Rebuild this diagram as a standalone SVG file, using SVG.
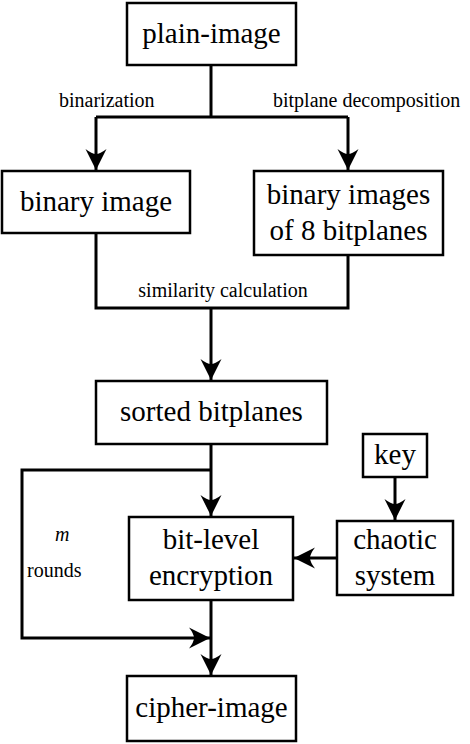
<svg xmlns="http://www.w3.org/2000/svg" width="470" height="744" viewBox="0 0 470 744">
<style>
.box{fill:#fff;stroke:#000;stroke-width:2.5}
.t{font-family:'Liberation Serif','Times New Roman',serif;font-size:29px;text-anchor:middle;fill:#000}
.l{font-family:'Liberation Serif','Times New Roman',serif;font-size:20px;fill:#000}
.c{fill:none;stroke:#000;stroke-width:3}
</style>
<defs>
<marker id="ah" markerUnits="userSpaceOnUse" markerWidth="24" markerHeight="24" viewBox="-22 -11 24 22" refX="0" refY="0" orient="auto">
<path d="M0,0 L-21,-10.5 Q-16,-4 -16,0 Q-16,4 -21,10.5 Z" fill="#000"/>
</marker>
</defs>
<rect width="470" height="744" fill="#fff"/>
<g id="connectors">
<path class="c" d="M211,65 V117"/>
<path class="c" d="M96,117 H348"/>
<path class="c" d="M96,117 V170" marker-end="url(#ah)"/>
<path class="c" d="M348,117 V170" marker-end="url(#ah)"/>
<path class="c" d="M96,233 V308 H348 V255"/>
<path class="c" d="M211,308 V380" marker-end="url(#ah)"/>
<path class="c" d="M211,444 V516" marker-end="url(#ah)"/>
<path class="c" d="M211,470 H22 V638 H210" marker-end="url(#ah)"/>
<path class="c" d="M395,477 V520" marker-end="url(#ah)"/>
<path class="c" d="M337,558 H294" marker-end="url(#ah)"/>
<path class="c" d="M211,600 V675" marker-end="url(#ah)"/>
<text class="l" x="59" y="107">binarization</text>
<text class="l" x="273" y="107">bitplane decomposition</text>
<text class="l" x="223" y="297" text-anchor="middle">similarity calculation</text>
<text class="l" x="55" y="541" font-style="italic">m</text>
<text class="l" x="27" y="577">rounds</text>
</g>
<g id="plain-image"><rect class="box" x="127" y="3" width="169" height="62"/><text class="t" x="211.5" y="43">plain-image</text></g>
<g id="binary-image"><rect class="box" x="2" y="171" width="188" height="62"/><text class="t" x="96" y="211">binary image</text></g>
<g id="binary-images"><rect class="box" x="254" y="171" width="189" height="84"/><text class="t" x="348.5" y="204">binary images</text><text class="t" x="348.5" y="240">of 8 bitplanes</text></g>
<g id="sorted-bitplanes"><rect class="box" x="96" y="381" width="231" height="63"/><text class="t" x="211.5" y="421">sorted bitplanes</text></g>
<g id="key"><rect class="box" x="363" y="434" width="64" height="43"/><text class="t" x="395" y="464">key</text></g>
<g id="bit-level-encryption"><rect class="box" x="129" y="517" width="164" height="83"/><text class="t" x="211" y="549">bit-level</text><text class="t" x="211" y="585">encryption</text></g>
<g id="chaotic-system"><rect class="box" x="337" y="521" width="116" height="74"/><text class="t" x="395" y="549">chaotic</text><text class="t" x="395" y="585">system</text></g>
<g id="cipher-image"><rect class="box" x="127" y="676" width="169" height="65"/><text class="t" x="211.5" y="717">cipher-image</text></g>
</svg>
